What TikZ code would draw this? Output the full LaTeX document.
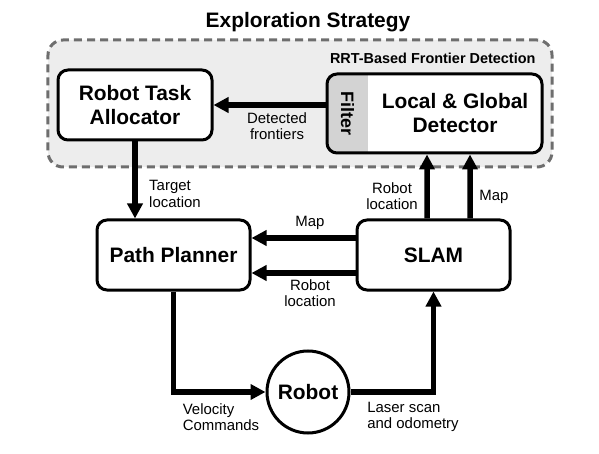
\documentclass[tikz,border=0pt]{standalone}
\usepackage{fontspec}
\setmainfont{Liberation Sans}
\usetikzlibrary{arrows.meta}
\definecolor{regiongray}{HTML}{EDEDED}
\definecolor{dashgray}{HTML}{6E6E6E}
\definecolor{filtergray}{HTML}{D3D3D3}

\begin{document}
\begin{tikzpicture}[
    x=1bp, y=-1bp,
    box style/.style={draw, line width=3bp, rounded corners=10bp, fill=white, align=center, font=\fontsize{21}{24}\selectfont\bfseries},
    flow style/.style={line width=5.5bp, -{Triangle[length=15bp,width=15bp]}},
    label style/.style={align=center, font=\fontsize{15}{16.5}\selectfont}
]
    \useasboundingbox (0,0) rectangle (599,454);

    % Exploration strategy region
    \node[draw=dashgray, fill=regiongray, line width=3bp, dash pattern=on 8bp off 5bp, rounded corners=15bp, minimum width=504bp, minimum height=127bp] (strategy) at (300,103.5) {};
    \node[font=\fontsize{21}{24}\selectfont\bfseries] (strategy_title) at (308,22) {Exploration Strategy};
    \node[font=\fontsize{14.5}{16}\selectfont\bfseries, anchor=east] (rrt_title) at (539,58) {RRT-Based Frontier Detection};

    % Boxes
    \node[box style, minimum width=154bp, minimum height=70bp] (task_alloc) at (135,105) {Robot Task\\Allocator};
    \node[box style, minimum width=215bp, minimum height=79bp,
        path picture={\fill[filtergray, sharp corners] (path picture bounding box.north west) rectangle ([xshift=41bp]path picture bounding box.south west);}] (detector) at (434.5,113.5) {};
    \node[font=\fontsize{18}{20}\selectfont\bfseries, rotate=-90] (filter) at (347.5,113.5) {Filter};
    \node[font=\fontsize{21}{24}\selectfont\bfseries, align=center] (detector_text) at (455,113) {Local \& Global\\Detector};
    \node[box style, minimum width=153bp, minimum height=70bp] (path_planner) at (173.5,255) {Path Planner};
    \node[box style, minimum width=153bp, minimum height=70bp] (slam) at (433.5,255) {SLAM};
    \node[box style, circle, minimum size=82bp] (robot) at (308,392) {Robot};

    % Detected frontiers
    \draw[flow style] (detector.west |- task_alloc.east) -- (task_alloc.east);
    \node[label style] (frontier_label) at (277,126) {Detected\\frontiers};

    % Target location
    \draw[flow style] (task_alloc.south) -- (task_alloc.south |- path_planner.north);
    \node[label style, align=left] (target_label) at (175,194) {Target\\location};

    % SLAM outputs
    \draw[flow style] ([yshift=17bp]slam.west) -- ([yshift=17bp]path_planner.east);
    \draw[flow style] ([yshift=-18bp]slam.west) -- ([yshift=-18bp]path_planner.east);
    \node[label style] (map_label) at (310,223) {Map};
    \node[label style] (pose_label) at (310,293) {Robot\\location};
    \draw[flow style] ([xshift=-6.5bp]slam.north) -- ([xshift=-7.5bp]detector.south);
    \draw[flow style] ([xshift=36.5bp]slam.north) -- ([xshift=35.5bp]detector.south);
    \node[label style] (det_pose_label) at (392,196) {Robot\\location};
    \node[label style] (det_map_label) at (494,197) {Map};

    % Robot loop
    \draw[flow style] (path_planner.south) |- (robot.west);
    \draw[flow style] (robot.east) -| (slam.south);
    \node[label style, align=left] (cmd_label) at (221,417) {Velocity\\Commands};
    \node[label style, align=left] (scan_label) at (413,417) {Laser scan\\and odometry};

\end{tikzpicture}
\end{document}
